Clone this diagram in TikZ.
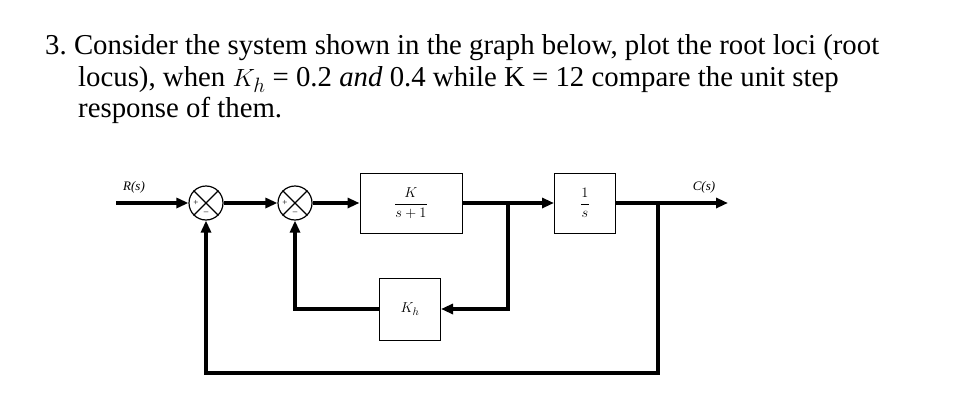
\documentclass[tikz,border=0pt]{standalone}
\usepackage{fontspec}
\setmainfont{Liberation Serif}
\usetikzlibrary{arrows.meta}
\begin{document}
\begin{tikzpicture}[x=1pt,y=-1pt,
  sig/.style={line width=4pt,-{Triangle[length=12pt,width=10pt]}},
  blk/.style={draw,line width=1pt,inner sep=0pt,font=\fontsize{15}{16}\selectfont\itshape},
  sumj/.style={draw,line width=1.2pt,circle,minimum size=34pt,inner sep=0pt},
  txt/.style={anchor=west,inner sep=0pt,font=\fontsize{28.8}{30}\selectfont}]
\useasboundingbox (0,0) rectangle (957,404);
\node[txt] (l1) at (45,48) {3.\ Consider the system shown in the graph below, plot the root loci (root};
\node[txt] (l2) at (78,80) {locus), when $K_h$ = 0.2 \textit{and} 0.4 while K = 12 compare the unit step};
\node[txt] (l3) at (78,110) {response of them.};
\node[sumj] (s1) at (206,203) {};
\node[sumj] (s2) at (295,203) {};
\foreach \s in {s1,s2}{
  \draw[line width=1.2pt] (\s.north west) -- (\s.south east);
  \draw[line width=1.2pt] (\s.north east) -- (\s.south west);
  \node[font=\small,inner sep=0pt] at ([xshift=-10pt]\s.center) {+};
  \node[font=\small,inner sep=0pt] at ([yshift=-10pt]\s.center) {--};
}
\node[blk,minimum width=102pt,minimum height=60pt] (g1) at (411,203) {$\displaystyle\frac{K}{s+1}$};
\node[blk,minimum width=61pt,minimum height=60pt] (g2) at (585,203) {$\displaystyle\frac{1}{s}$};
\node[blk,minimum width=61pt,minimum height=62pt] (kh) at (410,309) {$K_h$};
\coordinate (r) at (116,203);
\coordinate (b1) at (508,203);
\coordinate (b2) at (658,203);
\coordinate (c) at (728,203);
\node[font=\fontsize{13}{14}\selectfont\itshape] at (134,187) {R(s)};
\node[font=\fontsize{13}{14}\selectfont\itshape] at (704,187) {C(s)};
\draw[sig] (r) -- (s1);
\draw[sig] (s1) -- (s2);
\draw[sig] (s2) -- (g1);
\draw[sig] (g1) -- (g2);
\draw[sig] (g2) -- (c);
\draw[sig] (b1) |- (kh);
\draw[sig] (kh) -| (s2);
\draw[sig] (b2) |- (206,373) -- (s1);
\end{tikzpicture}
\end{document}
